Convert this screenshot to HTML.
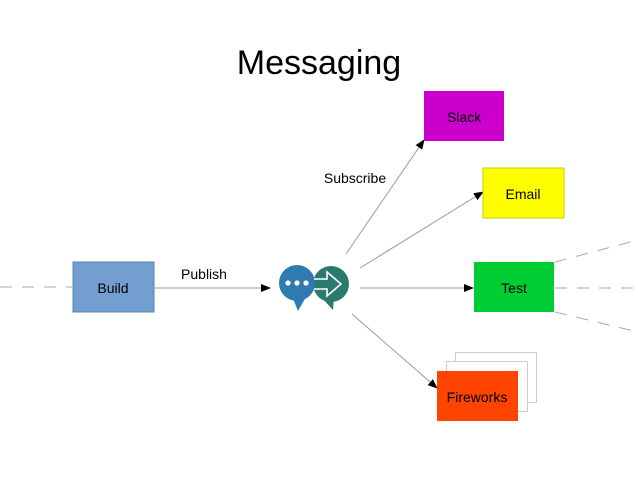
<!DOCTYPE html>
<html><head><style>body{margin:0;background:#fff}svg{display:block}text{font-family:"Liberation Sans",sans-serif}</style></head><body>
<svg width="638" height="478" viewBox="0 0 638 478">
<defs><marker id="a" markerWidth="10" markerHeight="8" refX="9" refY="4" orient="auto" markerUnits="userSpaceOnUse"><path d="M0,0L10,4L0,8z" fill="#000"/></marker></defs>
<text x="319" y="74" font-size="34" text-anchor="middle" fill="#000">Messaging</text>
<g stroke="#aaa" stroke-width="1" fill="none">
<line x1="0" y1="287" x2="72" y2="287" stroke-dasharray="12,10"/>
<line x1="555" y1="262" x2="638" y2="240" stroke-dasharray="12,10"/>
<line x1="555" y1="288" x2="638" y2="288" stroke-dasharray="12,10"/>
<line x1="555" y1="312" x2="638" y2="332" stroke-dasharray="12,10"/>
</g>
<g stroke="#999" stroke-width="1" fill="none" marker-end="url(#a)">
<line x1="155" y1="288" x2="270" y2="288"/>
<line x1="360" y1="288" x2="473" y2="288"/>
<line x1="346" y1="254" x2="424" y2="140"/>
<line x1="360" y1="268" x2="483" y2="192"/>
<line x1="352" y1="314" x2="437" y2="388"/>
</g>
<rect x="73" y="262" width="81" height="50" fill="#729fcf" stroke="#5a86b5"/>
<text x="113" y="293" font-size="14" text-anchor="middle">Build</text>
<text x="204" y="279" font-size="14" text-anchor="middle">Publish</text>
<text x="355" y="183" font-size="14" text-anchor="middle">Subscribe</text>
<rect x="424" y="91" width="80" height="50" fill="#cc00cc"/>
<text x="464" y="122" font-size="14" text-anchor="middle">Slack</text>
<rect x="483" y="168" width="81" height="50" fill="#ffff00" stroke="#cccc00"/>
<text x="523" y="199" font-size="14" text-anchor="middle">Email</text>
<rect x="474" y="262" width="80" height="50" fill="#00cc33"/>
<text x="514" y="293" font-size="14" text-anchor="middle">Test</text>
<rect x="455.5" y="352.5" width="81" height="50" fill="#fff" stroke="#ccc"/>
<rect x="446.5" y="361.5" width="81" height="50" fill="#fff" stroke="#ccc"/>
<rect x="437" y="371" width="81" height="50" fill="#ff4400"/>
<text x="477" y="402" font-size="14" text-anchor="middle">Fireworks</text>
<!-- icon -->
<circle cx="331" cy="284" r="18" fill="#2b7a70"/>
<path d="M322,298 L333,310 L334,298z" fill="#2b7a70"/>
<circle cx="297" cy="283" r="18" fill="#2f7bb0"/>
<path d="M292,296 L298,311 L306,297z" fill="#2f7bb0"/>
<circle cx="288" cy="283" r="2.6" fill="#fff"/><circle cx="297" cy="283" r="2.6" fill="#fff"/><circle cx="306" cy="283" r="2.6" fill="#fff"/>
<path d="M314,279 L327,279 L327,272 L341,284 L327,296 L327,289 L314,289" fill="none" stroke="#fff" stroke-width="1.6"/>
</svg>
</body></html>
